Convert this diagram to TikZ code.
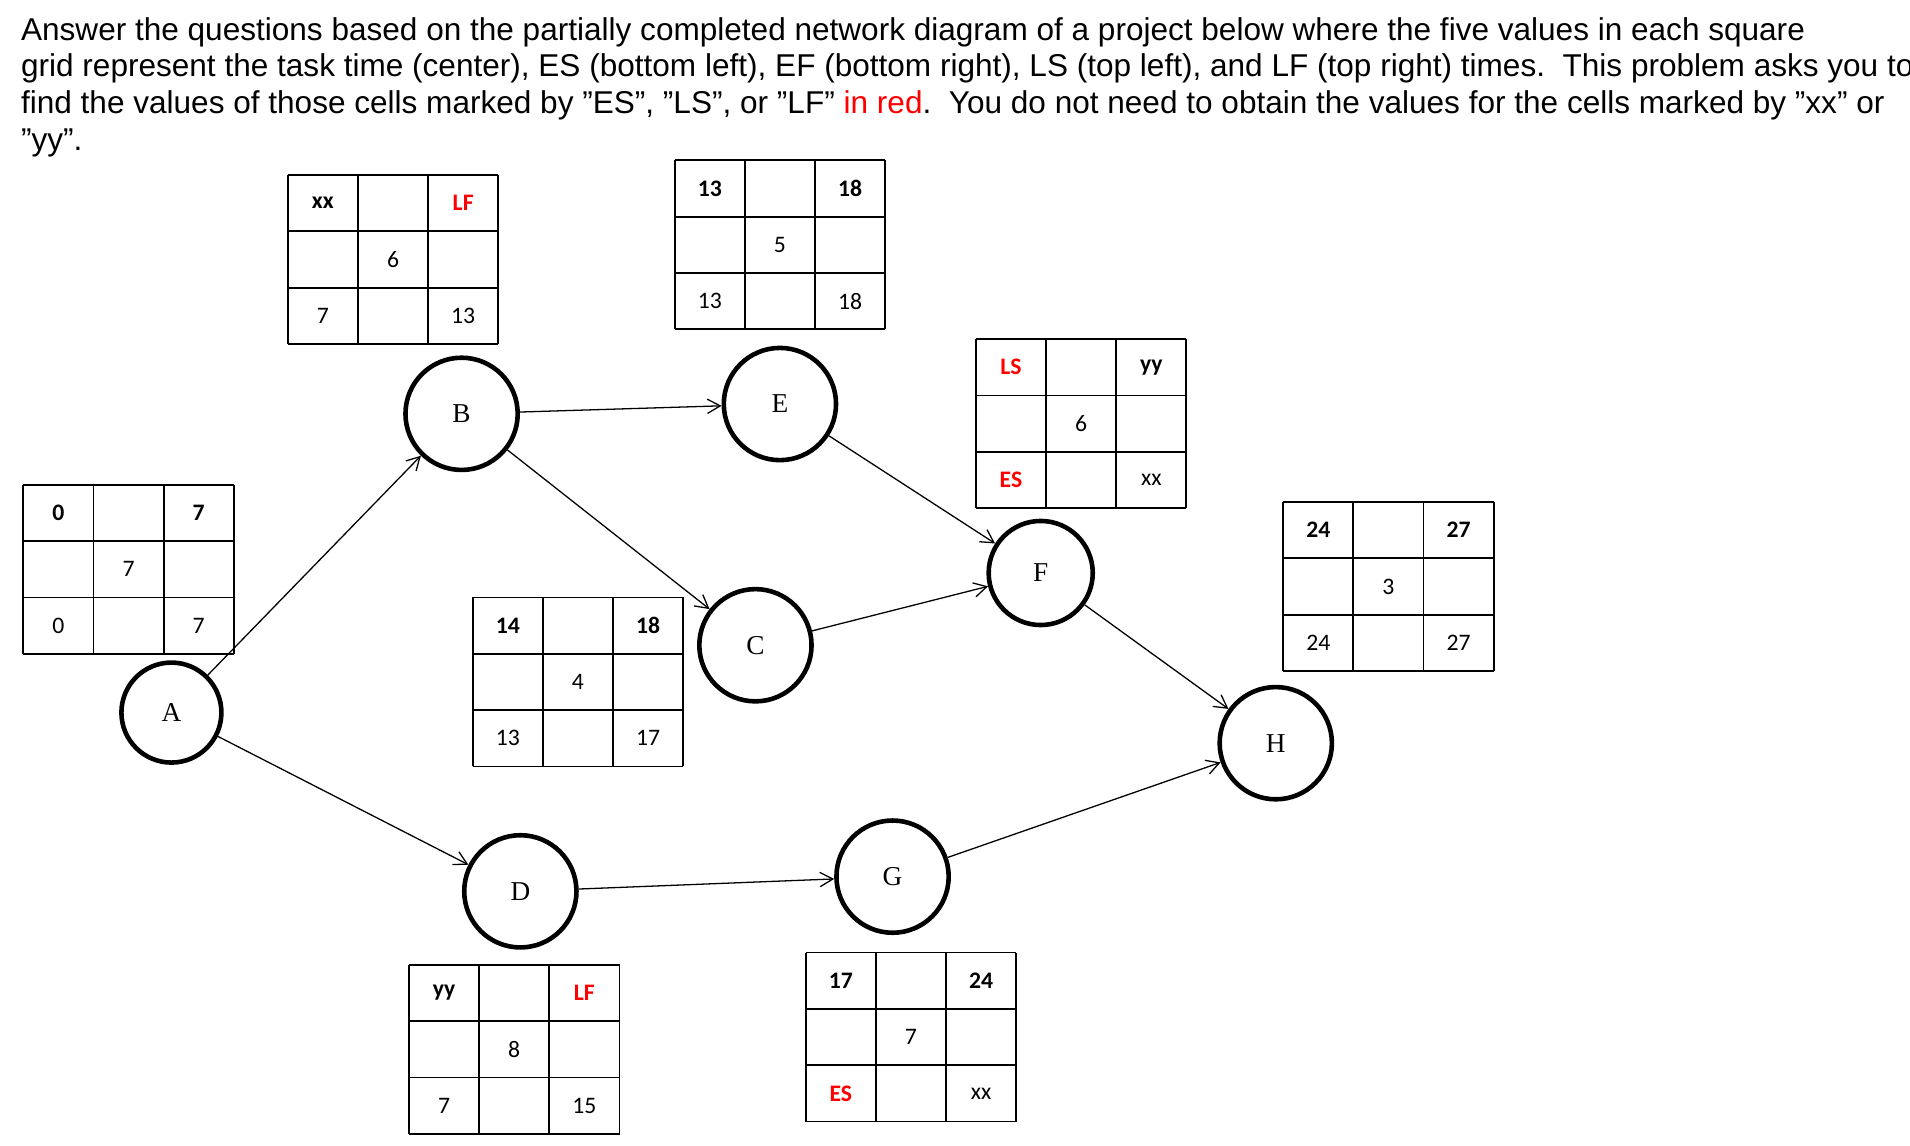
\documentclass[tikz,border=0pt]{standalone}
\usepackage{fontspec}
\setmainfont{Liberation Sans}
\newfontfamily\calfont{Carlito}
\newfontfamily\serfont{Liberation Serif}
\usetikzlibrary{arrows.meta}
\newcommand\qq{\symbol{34}}
\newcommand\pgrid[8]{%
 \begin{scope}[shift={(#1,#2)}]
 \foreach \i in {0,57.33,114.67,172} {\draw[line width=1.3pt] (\i,0) -- (\i,138);}
 \foreach \j in {0,46,92,138} {\draw[line width=1.3pt] (0,\j) -- (172,\j);}
 \node[cell] at (28.7,23) {#3}; \node[cell] at (143.3,23) {#4};
 \node[cell] at (86,69) {#5};
 \node[cell] at (28.7,115) {#6}; \node[cell] at (143.3,115) {#7};
 \end{scope}}
\begin{document}
\begin{tikzpicture}[x=0.03cm,y=-0.03cm,
 cell/.style={font=\calfont\fontsize{16.5}{17}\selectfont},
 ev/.style={circle,draw,line width=3.2pt,minimum size=2.75cm,font=\serfont\fontsize{19}{20}\selectfont,inner sep=0pt},
 arr/.style={-{Straight Barb[length=9pt,width=10pt]},line width=0.9pt}]
\useasboundingbox (0,0) rectangle (1560,936);
\node[anchor=north west,align=left,inner sep=0pt,font=\fontsize{22}{25.5}\selectfont] (q) at (17,14) {Answer the questions based on the partially completed network diagram of a project below where the five values in each square\\grid represent the task time (center), ES (bottom left), EF (bottom right), LS (top left), and LF (top right) times.\ \ This problem asks you to\\find the values of those cells marked by \qq ES\qq, \qq LS\qq, or \qq LF\qq\ \textcolor{red}{in red}.\ \ You do not need to obtain the values for the cells marked by \qq xx\qq\ or\\\qq yy\qq.};
\pgrid{235}{143}{\textbf{xx}}{\textcolor{red}{\textbf{LF}}}{6}{7}{13}{}
\pgrid{551}{131}{\textbf{13}}{\textbf{18}}{5}{13}{18}{}
\pgrid{797}{277}{\textcolor{red}{\textbf{LS}}}{\textbf{yy}}{6}{\textcolor{red}{\textbf{ES}}}{xx}{}
\pgrid{19}{396}{\textbf{0}}{\textbf{7}}{7}{0}{7}{}
\pgrid{386}{488}{\textbf{14}}{\textbf{18}}{4}{13}{17}{}
\pgrid{1048}{410}{\textbf{24}}{\textbf{27}}{3}{24}{27}{}
\pgrid{334}{788}{\textbf{yy}}{\textcolor{red}{\textbf{LF}}}{8}{7}{15}{}
\pgrid{658}{778}{\textbf{17}}{\textbf{24}}{7}{\textcolor{red}{\textbf{ES}}}{xx}{}
\node[ev,minimum size=2.45cm] (A) at (140,582) {A};
\node[ev] (B) at (377,338) {B};
\node[ev] (E) at (637,330) {E};
\node[ev] (C) at (617,527) {C};
\node[ev,minimum size=2.55cm] (F) at (850,468) {F};
\node[ev] (H) at (1042,607) {H};
\node[ev] (D) at (425,728) {D};
\node[ev] (G) at (729,716) {G};
\draw[arr] (A) -- (B);
\draw[arr] (B) -- (E);
\draw[arr] (B) -- (C);
\draw[arr] (E) -- (F);
\draw[arr] (C) -- (F);
\draw[arr] (F) -- (H);
\draw[arr] (A) -- (D);
\draw[arr] (D) -- (G);
\draw[arr] (G) -- (H);
\end{tikzpicture}
\end{document}
